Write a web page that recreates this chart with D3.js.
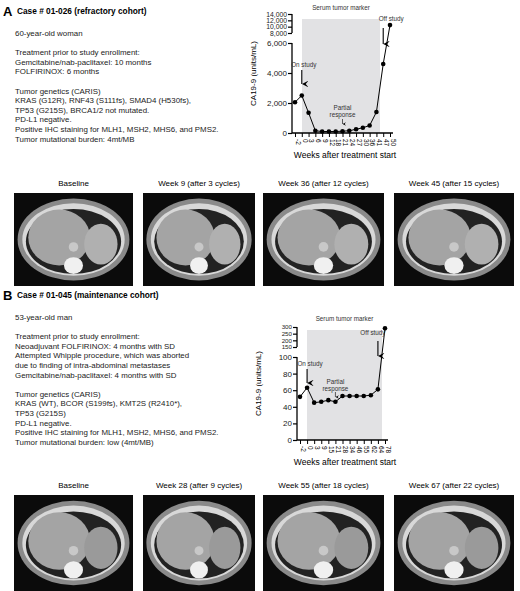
<!DOCTYPE html>
<html><head><meta charset="utf-8">
<script src="https://cdn.jsdelivr.net/npm/d3@7"></script>
<style>body{margin:0;background:#fff}text{font-family:Arial,"Liberation Sans",sans-serif}</style>
</head><body><div id="page"></div>
<script>
// panel A data
var weeksA = ["-2","0","3","6","9","12","18","21","24","27","30","36","41","47","50"];
var ca199A = [2050,2500,1350,150,100,100,100,120,150,250,350,500,1400,4600,10500];
// panel B data
var weeksB = ["-2","0","3","9","15","21","28","34","46","55","62","64","78"];
var ca199B = [52,63,45,46,48,46,53,53,53,53,54,61,290];

var textA = ["60-year-old woman","","Treatment prior to study enrollment:","Gemcitabine/nab-paclitaxel: 10 months","FOLFIRINOX: 6 months","",
  "Tumor genetics (CARIS)","KRAS (G12R), RNF43 (S111fs), SMAD4 (H530fs),","TP53 (G215S), BRCA1/2 not mutated.","PD-L1 negative.",
  "Positive IHC staining for MLH1, MSH2, MHS6, and PMS2.","Tumor mutational burden: 4mt/MB"];
var textB = ["53-year-old man","","Treatment prior to study enrollment:","Neoadjuvant FOLFIRINOX: 4 months with SD","Attempted Whipple procedure, which was aborted",
  "due to finding of intra-abdominal metastases","Gemcitabine/nab-paclitaxel: 4 months with SD","",
  "Tumor genetics (CARIS)","KRAS (WT), BCOR (S199fs), KMT2S (R2410*),","TP53 (G215S)","PD-L1 negative.",
  "Positive IHC staining for MLH1, MSH2, MHS6, and PMS2.","Tumor mutational burden: low (4mt/MB)"];
var scansA = ["Baseline","Week 9 (after 3 cycles)","Week 36 (after 12 cycles)","Week 45 (after 15 cycles)"];
var scansB = ["Baseline","Week 28 (after 9 cycles)","Week 55 (after 18 cycles)","Week 67 (after 22 cycles)"];

var svg = d3.select("#page").append("svg").attr("width",520).attr("height",591);
svg.append("defs").html('<marker id="ah" viewBox="0 0 10 10" refX="5" refY="10" markerWidth="6" markerHeight="6" orient="auto-start-reverse"><path d="M0,0 L5,10 L10,0 L5,4 z" fill="#000"/></marker>');

function panel(o){
  svg.append("text").attr("x",3).attr("y",o.top+3).attr("font-size",13).attr("font-weight","bold").text(o.letter);
  svg.append("text").attr("x",17).attr("y",o.top+1).attr("font-size",8.3).attr("font-weight","bold").text(o.title);
  svg.append("g").selectAll("text").data(o.lines).join("text")
    .attr("x",15).attr("y",(d,i)=>o.top+23+i*9.6).attr("font-size",7.9).attr("fill","#222").text(d=>d);

  var x = d3.scalePoint().domain(o.weeks).range(o.xr);
  var y = d3.scaleLinear().domain(o.ydom).range(o.yr);
  var g = svg.append("g");
  g.append("rect").attr("x",o.shade[0]).attr("width",o.shade[1]-o.shade[0])
    .attr("y",o.shadeTop).attr("height",o.yr[0]-o.shadeTop).attr("fill","#e2e2e4");
  g.append("text").attr("x",(o.shade[0]+o.shade[1])/2).attr("y",o.shadeTop-9).attr("text-anchor","middle").attr("font-size",6.3).attr("fill","#333").text("Serum tumor marker");
  // broken y axis: lower and upper segments
  var lo = d3.axisLeft(y).tickValues(o.lowTicks).tickSize(4).tickFormat(d3.format(","));
  var hi = d3.axisLeft(y).tickValues(o.highTicks).tickSize(4).tickFormat(d3.format(","));
  [lo,hi].forEach(function(ax,k){
    var a = g.append("g").attr("transform","translate("+o.axX+",0)").call(ax);
    var seg = k==0 ? [o.yr[0],y(o.lowTicks[o.lowTicks.length-1])] : [y(o.highTicks[0]),y(o.highTicks[o.highTicks.length-1])];
    a.select(".domain").attr("d","M0,"+seg[0]+"V"+seg[1]).attr("stroke-width",1.3);
    a.selectAll(".tick line").attr("stroke-width",1.2);
    a.selectAll("text").attr("font-size",k==1?o.hiFont:8).attr("fill","#222").attr("x",-5);
  });
  var xa = g.append("g").attr("transform","translate(0,"+o.yr[0]+")").call(d3.axisBottom(x).tickSize(4));
  xa.select(".domain").attr("d","M"+o.axX+",0H"+(o.xr[1]+3)).attr("stroke-width",1.3);
  xa.selectAll("text").attr("font-size",6.5).attr("transform","rotate(90)").attr("text-anchor","start").attr("x",6).attr("y",-2.5).attr("dy",".35em");
  g.append("text").attr("transform","translate("+(o.axX-36)+","+((o.yr[0]+o.yr[o.yr.length-1])/2)+") rotate(-90)")
    .attr("text-anchor","middle").attr("font-size",8).text("CA19-9 (units/mL)");
  g.append("text").attr("x",(o.axX+o.xr[1])/2+4).attr("y",o.yr[0]+25).attr("text-anchor","middle").attr("font-size",8.5).text("Weeks after treatment start");
  var pts = o.vals.map((v,i)=>[x(o.weeks[i]),y(v)]);
  g.append("path").attr("d",d3.line()(pts)).attr("fill","none").attr("stroke","#000").attr("stroke-width",1);
  g.selectAll("circle.p").data(pts).join("circle").attr("cx",d=>d[0]).attr("cy",d=>d[1]).attr("r",2.3).attr("fill","#000");
  // annotations
  o.notes.forEach(function(n){
    var px = x(o.weeks[n.i]);
    n.text.forEach((t,j)=>g.append("text").attr("x",px+(n.dx||0)).attr("y",n.ty+j*7).attr("text-anchor","middle").attr("font-size",6.3).attr("fill","#333").text(t));
    g.append("line").attr("x1",px).attr("x2",px).attr("y1",n.a0).attr("y2",n.a1).attr("stroke","#000").attr("stroke-width",n.small?0.6:1.1).attr("marker-end","url(#ah)");
  });

  // CT scan thumbnails
  var xs = [14,143,263,394], w = [119,112,121,120];
  o.scans.forEach(function(s,i){
    var sx = xs[i], sy = o.ctTop, sw = w[i], sh = o.ctH;
    svg.append("text").attr("x",sx+sw/2).attr("y",sy-7).attr("text-anchor","middle").attr("font-size",8).text(s);
    var c = svg.append("g");
    c.append("rect").attr("x",sx).attr("y",sy).attr("width",sw).attr("height",sh).attr("fill","#0b0b0b");
    var cx = sx+sw/2, cy = sy+sh/2;
    c.append("ellipse").attr("cx",cx).attr("cy",cy).attr("rx",sw*0.47).attr("ry",sh*0.44).attr("fill","#8a8a8a");
    c.append("ellipse").attr("cx",cx).attr("cy",cy).attr("rx",sw*0.43).attr("ry",sh*0.39).attr("fill","#d8d8d8");
    c.append("ellipse").attr("cx",cx).attr("cy",cy+2).attr("rx",sw*0.4).attr("ry",sh*0.35).attr("fill","#222");
    c.append("ellipse").attr("cx",cx-sw*0.12).attr("cy",cy-2).attr("rx",sw*0.26).attr("ry",sh*0.3).attr("fill","#a4a4a4");
    c.append("ellipse").attr("cx",cx+sw*0.23).attr("cy",cy+sh*0.05).attr("rx",sw*0.14).attr("ry",sh*0.22).attr("fill",o.letter=="A"?"#b0b0b0":"#9a9a9a");
    c.append("ellipse").attr("cx",cx).attr("cy",cy+sh*0.28).attr("rx",sw*0.08).attr("ry",sh*0.09).attr("fill","#f0f0f0");
    c.append("circle").attr("cx",cx).attr("cy",cy+sh*0.08).attr("r",sw*0.04).attr("fill","#c8c8c8");
  });
}

panel({letter:"A",title:"Case # 01-026 (refractory cohort)",top:13,lines:textA,
  weeks:weeksA,vals:ca199A,xr:[295,390],axX:292,hiFont:6.8,
  ydom:[0,6000,8000,14000],yr:[133,43,33,14],lowTicks:[0,2000,4000,6000],highTicks:[8000,10000,12000,14000],
  shade:[302,380],shadeTop:19,
  notes:[{i:1,text:["On study"],ty:67,a0:70,a1:84,dx:2},
         {i:7,text:["Partial","response"],ty:110,a0:119,a1:124,small:true},
         {i:13,text:["Off study"],ty:21,a0:28,a1:44,dx:8}],
  scans:scansA,ctTop:193,ctH:93});

panel({letter:"B",title:"Case # 01-045 (maintenance cohort)",top:297,lines:textB,
  weeks:weeksB,vals:ca199B,xr:[300,385],axX:297,hiFont:6.2,
  ydom:[0,100,150,300],yr:[440,357,347,327],lowTicks:[0,20,40,60,80,100],highTicks:[150,200,250,300],
  shade:[307,382],shadeTop:330,
  notes:[{i:1,text:["On study"],ty:366,a0:369,a1:383,dx:3},
         {i:5,text:["Partial","response"],ty:384,a0:392,a1:397,small:true},
         {i:11,text:["Off study"],ty:335,a0:341,a1:356,dx:-5}],
  scans:scansB,ctTop:495,ctH:96});
</script></body></html>
